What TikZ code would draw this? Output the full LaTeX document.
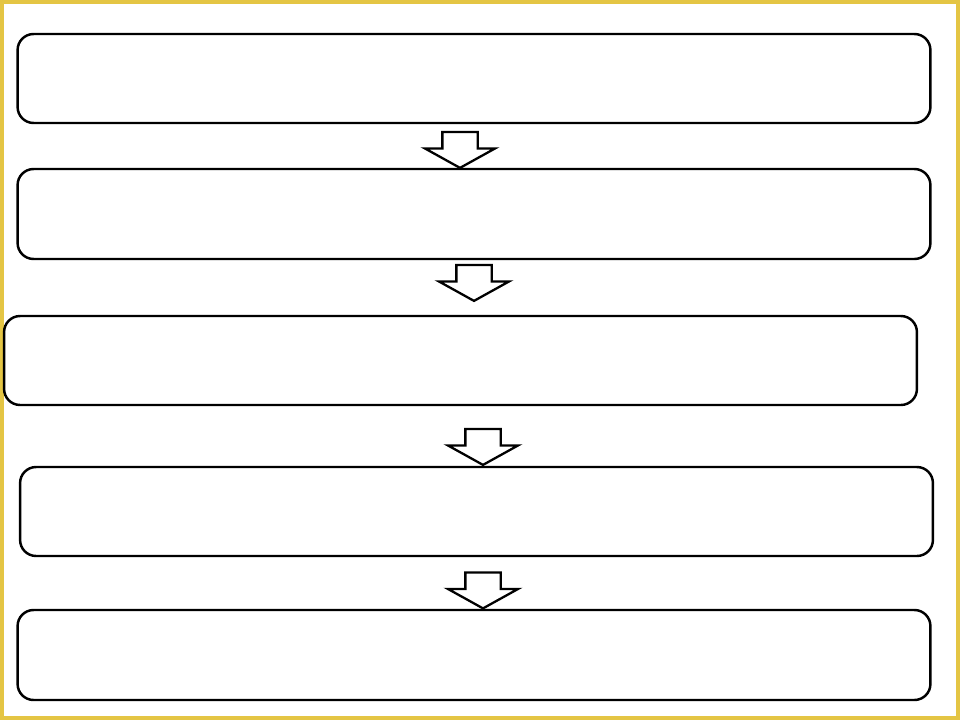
\documentclass[tikz,border=0pt]{standalone}
\usepackage{tikz}
\usetikzlibrary{positioning}
\usetikzlibrary{shapes.arrows}
\definecolor{framegold}{RGB}{228,197,68}
\tikzset{
	stage/.style={draw, rectangle, rounded corners=0.32cm, line width=1.4pt, minimum width=18.26cm, minimum height=1.78cm, inner sep=0pt},
	flowarrow/.style={draw, single arrow, rotate=-90, line width=1.3pt, fill=white, inner xsep=0pt, inner ysep=0.33cm, minimum height=0.72cm, single arrow head extend=0.35cm, single arrow tip angle=122, single arrow head indent=0cm},
}

\begin{document}
\begin{tikzpicture}[x=0.02cm, y=-0.02cm]
			\useasboundingbox (0,0) rectangle (960,720);
			\fill[white] (0,0) rectangle (960,720);
			\draw[framegold, line width=0.08cm] (1.6,1.6) rectangle (958.4,718.4);
			
			\node (s1) [stage] at (474,78.5) {};
			\node (s2) [stage, minimum height=1.8cm] at (474,214) {};
			\node (s3) [stage] at (460.5,360.5) {};
			\node (s4) [stage] at (476.5,511.5) {};
			\node (s5) [stage, minimum height=1.8cm] at (474,655) {};
			
			\node (a1) [flowarrow] at (460,145) {};
			\node (a2) [flowarrow] at (474,278) {};
			\node (a3) [flowarrow] at (483,442) {};
			\node (a4) [flowarrow] at (483,585.5) {};
		\end{tikzpicture}
\end{document}
